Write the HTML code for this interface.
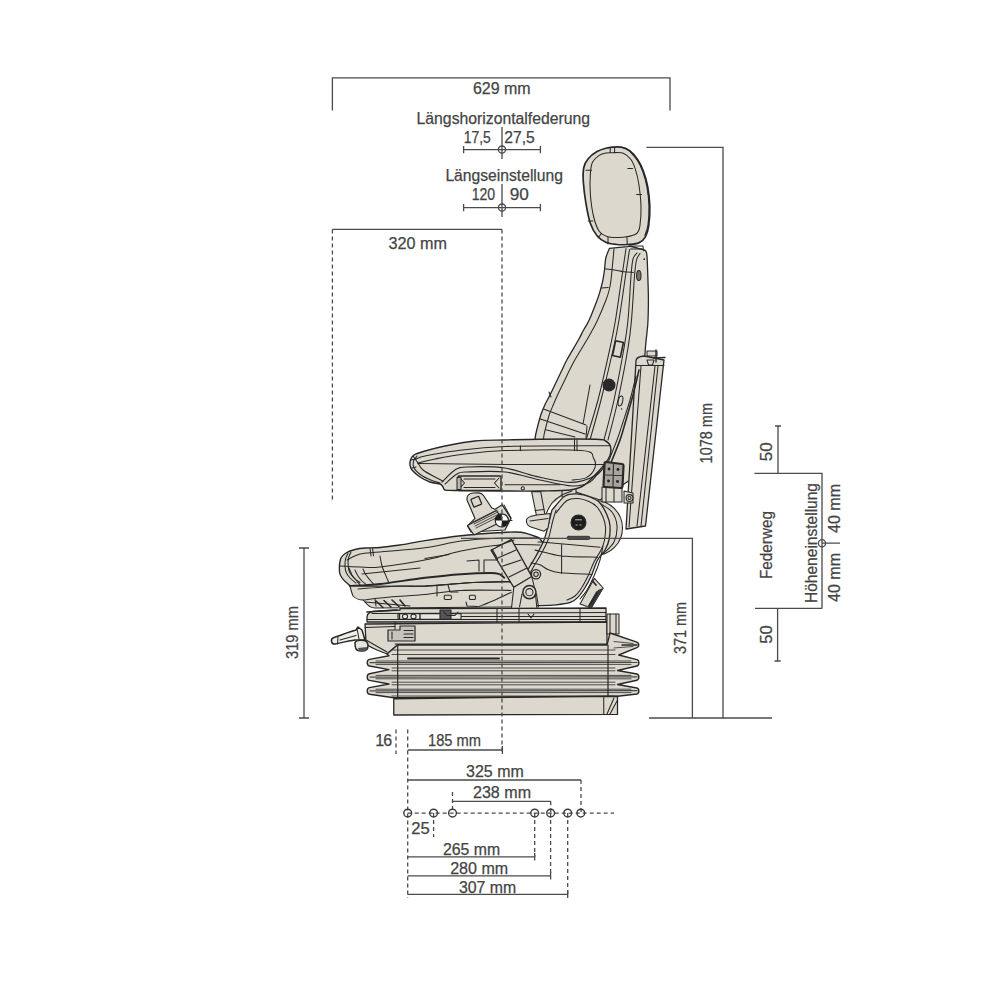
<!DOCTYPE html>
<html><head><meta charset="utf-8"><style>
html,body{margin:0;padding:0;background:#fff;width:1000px;height:1000px;overflow:hidden}
svg{display:block}
</style></head><body>
<svg width="1000" height="1000" viewBox="0 0 1000 1000">
<g stroke="#282828" stroke-width="1.05" fill="#dcd8ce" stroke-linejoin="round" stroke-linecap="round">
<path stroke-width="1.7" d="M612.4,147.2 C615.0,147.0 618.3,146.6 621.2,147.2 C624.1,147.8 627.2,148.9 630.0,151.0 C632.8,153.1 635.5,156.5 637.7,159.8 C639.9,163.1 641.6,166.4 643.2,170.8 C644.9,175.2 646.5,180.3 647.6,186.2 C648.7,192.1 649.6,199.4 649.8,206.0 C650.0,212.6 649.4,220.7 648.7,225.8 C648.0,230.9 647.0,234.0 645.4,236.8 C643.8,239.7 641.7,241.6 638.8,242.9 C635.9,244.2 631.5,244.2 627.8,244.5 C624.1,244.8 620.5,244.9 616.8,244.5 C613.1,244.1 609.1,243.8 605.8,242.3 C602.5,240.8 599.6,238.8 597.0,235.7 C594.4,232.6 592.2,228.9 590.4,223.6 C588.6,218.3 587.2,210.8 586.0,203.8 C584.8,196.8 583.7,187.9 583.3,181.8 C582.9,175.8 583.0,171.3 583.8,167.5 C584.6,163.7 586.0,161.3 588.2,158.7 C590.4,156.0 594.1,153.3 597.0,151.6 C599.9,149.9 603.2,149.0 605.8,148.3 C608.4,147.6 609.8,147.4 612.4,147.2 Z"/>
<path fill="none" stroke-width="1.2" d="M630.0,151.5 C631.2,153.0 635.4,157.2 637.5,160.5 C639.6,163.8 641.2,167.1 642.8,171.5 C644.4,175.9 646.0,181.2 647.0,187.0 C648.0,192.8 648.8,199.7 649.0,206.0 C649.2,212.3 648.7,220.1 648.0,225.0 C647.3,229.9 645.5,233.8 645.0,235.5"/>
<path d="M612.4,152.7 C615.3,152.7 620.3,152.0 623.4,153.2 C626.5,154.4 629.1,157.1 631.1,159.8 C633.1,162.6 634.2,165.7 635.5,169.7 C636.8,173.7 637.9,177.9 638.8,184.0 C639.7,190.1 640.8,199.0 641.0,206.0 C641.2,213.0 640.6,221.2 639.9,225.8 C639.2,230.4 638.8,231.7 636.6,233.5 C634.4,235.3 630.0,236.2 626.7,236.8 C623.4,237.5 619.9,237.4 616.8,237.4 C613.7,237.4 610.9,237.8 608.0,236.8 C605.1,235.8 601.6,234.6 599.2,231.3 C596.8,228.0 595.2,223.1 593.7,217.0 C592.2,210.9 591.0,202.3 590.4,195.0 C589.8,187.7 590.0,178.5 590.4,173.0 C590.8,167.5 591.1,164.9 592.6,162.0 C594.1,159.1 597.0,156.9 599.2,155.4 C601.4,153.9 603.6,153.4 605.8,153.0 C608.0,152.6 609.5,152.7 612.4,152.7 Z"/>
<path fill="none" d="M610.2,147.8 V152.5 M614.6,147.8 V152.5 M586,170.3 H591.5 M627.8,168.4 H632.5 M636.6,194.5 H641.5 M588.2,220.9 H592.8 M601.4,233.5 L598.1,237.9 M608,237.3 V244 M626.9,236.8 L627.3,244.2"/>
<path stroke-width="1.3" d="M609.4,248.4 C608.8,250.0 606.6,254.4 605.8,258.0 C605.0,261.6 605.0,266.0 604.5,270.0 C604.0,274.0 603.2,278.7 602.5,282.0 C601.8,285.3 601.3,287.0 600.4,290.0 C599.5,293.0 599.1,295.0 597.2,300.0 C595.3,305.0 591.5,315.0 589.2,320.0 C586.9,325.0 585.4,326.7 583.6,330.0 C581.8,333.3 581.2,335.0 578.4,340.0 C575.6,345.0 569.5,355.0 566.8,360.0 C564.1,365.0 563.6,366.7 562.0,370.0 C560.4,373.3 559.2,375.8 557.2,380.0 C555.2,384.2 552.1,390.8 550.0,395.0 C547.9,399.2 546.3,401.7 544.8,405.0 C543.3,408.3 541.9,411.7 540.8,415.0 C539.7,418.3 538.9,421.7 538.0,425.0 C537.1,428.3 536.1,432.5 535.6,435.0 C535.1,437.5 535.1,439.2 535.0,440.0 L540,480 L600,500 L630,480 L636.0,460.0 C637.0,450.0 640.4,418.7 642.0,400.0 C643.6,381.3 644.4,360.7 645.4,348.0 C646.4,335.3 647.3,332.0 647.8,324.0 C648.3,316.0 648.4,308.0 648.4,300.0 C648.4,292.0 648.1,283.8 647.8,276.0 C647.5,268.2 647.4,257.6 646.6,253.2 C645.8,248.8 643.6,250.2 643.0,249.6 L629.8,246 L627.4,246.6 Z"/>
<path fill="none" d="M614.0,249.0 C613.8,251.7 613.0,259.8 612.5,265.0 C612.0,270.2 611.5,275.8 611.0,280.0 C610.5,284.2 610.0,286.7 609.2,290.0 C608.4,293.3 607.9,295.0 606.0,300.0 C604.1,305.0 599.9,315.0 597.6,320.0 C595.3,325.0 594.2,326.7 592.4,330.0 C590.6,333.3 589.7,335.0 586.8,340.0 C583.9,345.0 577.7,355.0 574.8,360.0 C571.9,365.0 571.3,366.7 569.6,370.0 C567.9,373.3 566.8,375.8 564.8,380.0 C562.8,384.2 559.5,390.8 557.6,395.0 C555.7,399.2 554.6,401.7 553.2,405.0 C551.8,408.3 550.3,411.7 549.2,415.0 C548.1,418.3 547.3,421.7 546.4,425.0 C545.5,428.3 544.5,432.5 544.0,435.0 C543.5,437.5 543.6,439.2 543.5,440.0"/>
<path fill="none" d="M626.0,248.5 C625.3,253.1 623.8,264.1 622.0,276.0 C620.2,287.9 617.5,308.0 615.5,320.0 C613.5,332.0 612.9,334.7 610.0,348.0 C607.1,361.3 602.0,384.7 598.0,400.0 C594.0,415.3 588.0,433.3 586.0,440.0"/>
<path fill="none" d="M629.5,249.5 C628.8,253.9 627.2,264.2 625.5,276.0 C623.8,287.8 621.0,308.0 619.0,320.0 C617.0,332.0 616.5,334.7 613.5,348.0 C610.5,361.3 604.9,384.7 601.0,400.0 C597.1,415.3 591.8,433.3 590.0,440.0"/>
<path fill="none" d="M637.0,253.0 C636.3,254.0 634.0,255.2 633.0,259.0 C632.0,262.8 631.8,265.8 631.0,276.0 C630.2,286.2 629.2,308.0 628.0,320.0 C626.8,332.0 626.3,334.7 624.0,348.0 C621.7,361.3 617.3,384.7 614.0,400.0 C610.7,415.3 605.7,433.3 604.0,440.0"/>
<path fill="none" d="M640.0,253.5 C639.4,254.6 637.4,256.2 636.5,260.0 C635.6,263.8 635.3,266.0 634.5,276.0 C633.7,286.0 632.6,308.0 631.5,320.0 C630.4,332.0 630.2,334.7 628.0,348.0 C625.8,361.3 621.3,384.7 618.0,400.0 C614.7,415.3 609.7,433.3 608.0,440.0"/>
<path fill="none" d="M629.8,246 L643,246 L643.5,250.8 M630.5,249 L642.5,249"/>
<path fill="none" d="M604.6,268.8 C606.2,269.0 611.0,269.5 614.2,270.0 C617.4,270.5 620.6,271.4 623.8,271.8 C627.0,272.2 631.8,272.3 633.4,272.4 M601.6,288 L608.2,287.4"/>
<ellipse cx="638.8" cy="275.4" rx="2.2" ry="5" fill="#77736c"/>
<circle cx="644.2" cy="259.2" r="0.9" fill="#2e2e2e" stroke="none"/>
<rect x="614" y="341.5" width="8" height="15" transform="rotate(12 618 349)" stroke-width="1.6"/>
<circle cx="609" cy="385" r="6" fill="#2a2a2a"/>
<ellipse cx="620.5" cy="401" rx="2.2" ry="5" fill="none" transform="rotate(12 620.5 401)"/>
<circle cx="621.5" cy="409" r="0.8" fill="#2e2e2e" stroke="none"/>
<path fill="none" d="M543.6,409 L586,425 M540.4,419 L585,434 M545.6,429.8 L575,437 M587,426 L586,438 M590,385 L583,424 M549,392 L551,397"/>
<path stroke-width="1.3" d="M636,361 C636,358 639,356.5 644,356 L664,360 L645.5,526 L626,529 Z"/>
<path fill="none" d="M636,365.5 L664,365.5 M641,366 L629,527 M655,366 L637,526 M658,366 L641,526"/>
<path fill="none" stroke-width="1.6" d="M639.0,370.0 C638.0,374.2 635.2,386.7 633.0,395.0 C630.8,403.3 628.2,412.5 626.0,420.0 C623.8,427.5 622.7,432.5 620.0,440.0 C617.3,447.5 611.7,460.8 610.0,465.0"/>
<path fill="none" d="M636.0,376.0 C635.0,380.0 632.2,392.3 630.0,400.0 C627.8,407.7 625.2,415.3 623.0,422.0 C620.8,428.7 619.7,432.8 617.0,440.0 C614.3,447.2 608.7,460.8 607.0,465.0"/>
<path d="M647,351 L657,351 L657,356 L647,356 Z M647,360 L654,360 L652.5,365 L648.5,365 Z"/>
<path fill="none" stroke-width="1.4" d="M656,350 L656,362 M654,358 L665,357.5"/>
<path d="M624,491 L633,493 L633,503 L624,503 Z"/>
<circle cx="629.5" cy="498" r="3.4"/><circle cx="629.5" cy="498" r="1.6" fill="none"/>
<circle cx="595" cy="528" r="27.5"/>
<path fill="none" d="M601.0,504.0 C602.8,505.3 609.3,508.3 612.0,512.0 C614.7,515.7 616.7,521.0 617.0,526.0 C617.3,531.0 616.3,537.3 614.0,542.0 C611.7,546.7 604.8,552.0 603.0,554.0"/>
<path stroke="none" d="M531,490 L562,490 L562,497 L552,505 L546,512 L537,516 Z"/>
<path d="M531.6,491.6 L540.7,491.6 L544.9,514.4 L536.5,515.8 Z"/>
<path fill="none" d="M535,510.5 L544,509.5"/>
<path d="M562,488 L576,488 L576,497 L562,497 Z"/>
<path d="M602,487 L622,487 L622,502 L602,502 Z"/><path fill="none" d="M606,487 L606,502 M614,487 L614,502"/>
<path stroke-width="1.4" d="M339.5,572.0 C339.5,570.8 339.2,567.3 339.5,565.0 C339.8,562.7 339.9,560.0 341.0,558.0 C342.1,556.0 343.7,554.4 346.0,553.0 C348.3,551.6 351.8,550.3 355.0,549.5 C358.2,548.7 360.8,548.3 365.0,548.0 C369.2,547.7 374.2,548.0 380.0,547.5 C385.8,547.0 392.5,546.1 400.0,545.0 C407.5,543.9 414.8,542.1 425.0,540.6 C435.2,539.1 449.0,537.1 461.0,535.8 C473.0,534.5 487.0,533.4 497.0,532.8 C507.0,532.2 514.0,531.4 521.0,532.2 C528.0,533.0 536.0,536.9 539.0,537.8 L545,545 L540,570 L511,582 L473,582.6 L425,586.2 L380,588 L358,589 C354,588 351,587 348,584 C343,580 340,577 339.5,572 Z"/>
<path fill="none" d="M347.0,560.0 C349.2,559.0 354.5,555.3 360.0,554.0 C365.5,552.7 369.2,553.0 380.0,552.0 C390.8,551.0 411.5,549.6 425.0,547.8 C438.5,546.0 449.0,542.6 461.0,541.0 C473.0,539.4 484.0,538.7 497.0,538.2 C510.0,537.7 532.0,538.0 539.0,538.0"/>
<path fill="none" d="M340.0,566.0 C343.3,566.2 353.3,566.8 360.0,567.0 C366.7,567.2 368.3,568.3 380.0,567.0 C391.7,565.7 416.5,561.7 430.0,559.0 C443.5,556.3 449.3,553.3 461.0,551.0 C472.7,548.7 486.8,546.0 500.0,545.0 C513.2,544.0 533.3,545.0 540.0,545.0"/>
<path fill="none" d="M362,574 L420,568 M425,558.6 L449,554.4 M467,561 L479,560 L479,571 M484,560 L497,560 M484,560 L484,572"/>
<path fill="none" d="M370,548.2 L371,556 M372.5,548 L373.5,555.8"/>
<path fill="none" d="M348.0,553.5 C347.6,554.4 346.0,556.9 345.5,559.0 C345.0,561.1 344.9,563.8 345.0,566.0 C345.1,568.2 345.2,570.0 346.0,572.0 C346.8,574.0 348.3,576.2 350.0,578.0 C351.7,579.8 355.0,582.2 356.0,583.0 M351.0,552.0 C350.6,553.0 349.0,555.7 348.5,558.0 C348.0,560.3 348.0,563.7 348.2,566.0 C348.4,568.3 348.5,570.0 349.5,572.0 C350.5,574.0 352.2,576.2 354.0,578.0 C355.8,579.8 359.0,581.8 360.0,582.5"/>
<path fill="none" d="M380.0,556.0 C380.3,557.7 381.0,562.7 382.0,566.0 C383.0,569.3 384.8,573.2 386.0,576.0 C387.2,578.8 388.5,581.8 389.0,583.0 M363.0,569.0 C363.5,570.0 364.8,573.2 366.0,575.0 C367.2,576.8 368.7,578.4 370.0,580.0 C371.3,581.6 373.3,583.8 374.0,584.5 M355.0,570.0 C355.5,571.0 356.8,574.2 358.0,576.0 C359.2,577.8 360.3,579.3 362.0,581.0 C363.7,582.7 367.0,585.2 368.0,586.0 M349.0,568.0 C349.5,569.2 350.8,573.0 352.0,575.0 C353.2,577.0 354.5,578.2 356.0,580.0 C357.5,581.8 360.2,585.0 361.0,586.0"/>
<path fill="none" stroke-width="1.9" d="M350.0,586.0 C355.0,585.7 367.5,585.4 380.0,584.0 C392.5,582.6 411.5,579.4 425.0,577.8 C438.5,576.2 450.0,575.0 461.0,574.2 C472.0,573.4 484.6,573.0 491.0,573.0 C497.4,573.0 497.2,573.4 499.4,574.2 C501.6,575.0 503.4,577.2 504.2,577.8"/>
<path d="M350,586 C351,590 352,594 353,596 C356,599 360,600 363,600 L365,602 C368,606 372,608 375,608 L515,607 L515,582 L473,582.6 L425,586.2 Z"/>
<path fill="none" d="M358.0,589.0 C365.0,588.5 388.8,586.5 400.0,586.0 C411.2,585.5 412.8,586.8 425.0,586.2 C437.2,585.6 458.7,583.4 473.0,582.6 C487.3,581.8 504.7,581.6 511.0,581.4 M363.0,600.0 C367.5,599.5 379.7,597.9 390.0,597.0 C400.3,596.1 413.2,595.7 425.0,594.6 C436.8,593.5 446.7,591.1 461.0,590.4 C475.3,589.7 502.7,590.4 511.0,590.4 M479.0,606.6 C481.7,605.5 489.6,602.4 495.0,600.0 C500.4,597.6 508.7,593.5 511.4,592.2"/>
<path fill="none" d="M365,602 L410,606 M375,599 L376,606 M437,586 L437,596"/>
<rect x="444.2" y="595.2" width="7.2" height="4.2" rx="1.2" fill="none"/>
<rect x="469.4" y="595.2" width="6" height="4.2" rx="1" fill="none"/>
<path fill="none" stroke-width="1.6" d="M376,601 L383,607.5 M384,600.5 L391,607 M392,600 L399,606.5 M400,600 L405,606"/>
<path fill="none" d="M466,602 L467,606 L478,606.5 M448,585 L450,592 L458,592"/>
<path stroke-width="1.3" d="M552.0,510.0 C554.2,507.7 560.7,498.7 565.0,496.0 C569.3,493.3 573.8,493.8 578.0,494.0 C582.2,494.2 586.3,495.5 590.0,497.0 C593.7,498.5 597.2,500.0 600.0,503.0 C602.8,506.0 605.3,511.2 607.0,515.0 C608.7,518.8 609.7,521.8 610.0,526.0 C610.3,530.2 609.8,536.0 609.0,540.0 C608.2,544.0 606.9,546.7 605.0,550.0 C603.1,553.3 599.9,555.7 597.6,560.0 C595.3,564.3 593.3,571.3 591.2,576.0 C589.1,580.7 587.1,584.4 584.8,588.0 C582.5,591.6 580.0,595.2 577.6,597.6 C575.2,600.0 574.0,601.2 570.4,602.4 C566.8,603.6 561.1,604.3 556.0,604.8 C550.9,605.3 546.8,605.4 540.0,605.6 C533.2,605.8 519.2,605.9 515.0,606.0 L517,592 L517.0,592.0 C518.2,589.5 521.8,581.3 524.0,577.0 C526.2,572.7 528.0,569.5 530.0,566.0 C532.0,562.5 533.7,560.3 536.0,556.0 C538.3,551.7 541.8,545.7 544.0,540.0 C546.2,534.3 547.7,527.0 549.0,522.0 C550.3,517.0 551.5,512.0 552.0,510.0 Z"/>
<path fill="none" d="M556.0,513.0 C557.8,510.9 563.3,502.9 567.0,500.5 C570.7,498.1 574.3,498.3 578.0,498.5 C581.7,498.7 585.8,500.1 589.0,501.5 C592.2,502.9 594.7,504.4 597.0,507.0 C599.3,509.6 601.6,513.7 603.0,517.0 C604.4,520.3 605.2,523.2 605.5,527.0 C605.8,530.8 605.2,536.2 604.5,540.0 C603.8,543.8 602.8,546.3 601.0,550.0 C599.2,553.7 596.2,557.7 594.0,562.0 C591.8,566.3 590.1,571.7 588.0,576.0 C585.9,580.3 583.7,584.7 581.5,588.0 C579.3,591.3 577.4,594.0 575.0,596.0 C572.6,598.0 568.3,599.3 567.0,600.0"/>
<path fill="none" d="M546.0,514.0 C547.0,512.2 549.3,506.2 552.0,503.0 C554.7,499.8 558.7,497.0 562.0,495.0 C565.3,493.0 570.3,491.7 572.0,491.0"/>
<path fill="none" d="M556.0,510.0 C555.4,512.0 553.8,517.0 552.5,522.0 C551.2,527.0 550.1,534.3 548.0,540.0 C545.9,545.7 542.3,551.7 540.0,556.0 C537.7,560.3 536.0,562.5 534.0,566.0 C532.0,569.5 530.2,572.7 528.0,577.0 C525.8,581.3 522.2,589.5 521.0,592.0"/>
<path fill="none" d="M603.0,546.0 C602.5,548.3 601.5,555.0 600.0,560.0 C598.5,565.0 596.2,571.0 594.0,576.0 C591.8,581.0 589.3,586.2 587.0,590.0 C584.7,593.8 581.2,597.5 580.0,599.0"/>
<path d="M526.4,521 C526,518 530,516 537,515 L550.4,513.6 L548,528 L544,531.2 L531,527 C528,526 526.5,523 526.4,521 Z"/>
<path fill="none" d="M530,521 L548,518.5"/>
<circle cx="578.5" cy="522.5" r="7.5" fill="#1c1c1c"/>
<path fill="none" stroke="#cfcfcf" stroke-width="0.9" d="M575.5,519.8 L581.5,519.8 M576,525 L577.2,525 M579.8,525 L581,525"/>
<rect x="567" y="536.3" width="23" height="3.2" rx="1.6" fill="#4a4a4a" stroke-width="0.8"/>
<path fill="none" d="M538.0,542.0 C539.4,542.1 540.2,541.9 546.4,542.4 C552.6,542.9 566.1,544.2 575.0,545.0 C583.9,545.8 595.8,546.8 600.0,547.2 M535.0,550.0 C535.8,550.2 535.6,550.2 540.0,551.2 C544.4,552.2 552.0,555.0 561.6,556.0 C571.2,557.0 591.6,557.0 597.6,557.2 M561.6,544 L561.6,573.6 M531.0,563.0 C532.5,563.3 537.2,563.7 540.0,564.8 C542.8,565.9 544.7,568.3 548.0,569.6 C551.3,570.9 552.7,572.0 560.0,572.8 C567.3,573.6 586.7,574.1 592.0,574.4"/>
<path d="M594.4,578.4 L603.2,588 L591.2,608 L580,604 Z"/>
<path fill="#3a3a3a" stroke="none" d="M598,590 L603.2,588 L592,607.5 L588,606 Z"/>
<path fill="none" stroke-width="1.8" d="M589,606 L597,592 M592.5,581 L596,585"/>
<path stroke-width="1.4" d="M410.5,460.0 C411.2,458.3 411.6,456.5 414.0,455.0 C416.4,453.5 419.8,452.5 425.0,451.0 C430.2,449.5 436.7,447.7 445.0,446.0 C453.3,444.3 465.0,442.0 475.0,441.0 C485.0,440.0 494.2,440.3 505.0,440.0 C515.8,439.7 524.8,439.3 540.0,439.2 C555.2,439.1 585.1,438.9 596.0,439.2 C606.9,439.5 603.2,439.8 605.6,441.0 C608.0,442.2 609.7,443.9 610.4,446.4 C611.1,448.9 610.8,453.0 609.8,456.0 C608.8,459.0 606.7,461.4 604.4,464.4 C602.1,467.4 599.4,470.5 596.0,474.0 C592.6,477.5 588.3,482.7 584.0,485.4 C579.7,488.1 577.3,489.1 570.0,490.0 C562.7,490.9 550.8,490.8 540.0,491.0 C529.2,491.2 519.2,491.1 505.0,491.0 C490.8,490.9 465.0,490.7 455.0,490.5 C445.0,490.3 447.0,490.6 445.0,490.0 C443.0,489.4 443.8,488.0 443.0,487.0 C442.2,486.0 442.2,484.8 440.0,484.0 C437.8,483.2 433.3,483.2 430.0,482.0 C426.7,480.8 423.0,479.0 420.0,477.0 C417.0,475.0 413.7,472.0 412.0,470.0 C410.3,468.0 410.2,466.7 410.0,465.0 C409.8,463.3 409.8,461.7 410.5,460.0 Z"/>
<path fill="none" d="M416.0,459.0 C417.5,458.5 418.5,457.3 425.0,456.0 C431.5,454.7 441.7,452.6 455.0,451.0 C468.3,449.4 479.2,447.4 505.0,446.5 C530.8,445.6 592.5,445.9 610.0,445.8"/>
<path fill="none" d="M418.0,463.0 C420.8,462.3 427.2,460.5 435.0,459.0 C442.8,457.5 453.3,455.4 465.0,454.0 C476.7,452.6 485.6,451.2 505.0,450.6 C524.4,450.0 566.8,449.3 581.6,450.6 C596.4,451.9 591.4,455.5 593.6,458.4 C595.8,461.3 596.0,464.8 594.8,468.0 C593.6,471.2 590.2,475.6 586.4,477.6 C582.6,479.6 574.4,479.6 572.0,480.0"/>
<path fill="none" d="M418,463.5 L505,464.5 L604,464.4"/>
<path fill="none" d="M418.0,463.0 C418.8,464.2 420.2,467.7 423.0,470.0 C425.8,472.3 431.7,475.2 435.0,477.0 C438.3,478.8 441.7,480.3 443.0,481.0"/>
<path fill="none" stroke-width="1.2" d="M442.0,482.0 C444.2,480.0 450.8,472.5 455.0,470.0 C459.2,467.5 458.7,467.3 467.0,467.0 C475.3,466.7 493.5,466.4 505.0,468.0 C516.5,469.6 524.8,474.0 536.0,476.4 C547.2,478.8 562.0,482.6 572.0,482.4 C582.0,482.2 590.4,478.2 596.0,475.2 C601.6,472.2 604.0,466.2 605.6,464.4"/>
<path fill="none" d="M445.0,484.0 C447.0,482.3 453.3,476.0 457.0,474.0 C460.7,472.0 459.0,472.3 467.0,472.0 C475.0,471.7 492.8,470.7 505.0,472.0 C517.2,473.3 528.8,477.7 540.0,480.0 C551.2,482.3 563.7,485.7 572.0,486.0 C580.3,486.3 585.3,484.7 590.0,482.0 C594.7,479.3 598.3,472.0 600.0,470.0"/>
<path fill="none" d="M417.0,456.0 C416.4,456.8 414.0,459.0 413.5,461.0 C413.0,463.0 412.8,465.7 414.0,468.0 C415.2,470.3 418.0,472.9 421.0,475.0 C424.0,477.1 428.8,479.2 432.0,480.5 C435.2,481.8 438.7,482.6 440.0,483.0"/>
<path fill="none" d="M410.5,460 L416,459 M413,456 L418,463 M412,468 L416,467"/>
<path fill="none" d="M574.5,439.5 L574.5,450.6 M577,439.5 L577,450.6 M520.4,445.8 L520.4,450.6"/>
<path fill="none" d="M505,484.8 L560,484.8"/>
<circle cx="522.8" cy="488.4" r="1.6" fill="none"/>
<rect x="458" y="476" width="43" height="14.5" rx="1" stroke-width="1.4"/>
<path fill="none" d="M464,479 L495,479 M464,487.5 L495,487.5 M460,478 L464.5,483 L460,488 M499,478 L494.5,483 L499,488"/>
<path d="M461,477.5 L457,477.5 L457,489.5 L461,489.5 Z" fill="#bbb7af"/>
<path stroke-width="2.2" fill="#a8a49d" d="M606,462 L622,464 C623,464 623.5,465 623.5,466 L622.5,486 C622.5,487 621.5,488 620.5,488 L605,487 C604,487 603.5,486 603.5,485 L604.5,464 C604.5,463 605,462 606,462 Z"/>
<path fill="none" stroke="#333" stroke-width="1.2" d="M604.5,475 L622.5,475.5 M613.5,463 L613,487"/>
<g fill="#222" stroke="none"><circle cx="609" cy="469" r="1.4"/><circle cx="618" cy="469.5" r="1.4"/><circle cx="608.5" cy="481" r="1.4"/><circle cx="617.5" cy="481.5" r="1.4"/></g>
<path stroke-width="1.2" d="M467,500 C466.5,496 469,493.5 473,493 L479,492.8 C481,493 482.5,494 483.5,495.5 L491.8,508 L495,509.2 L502.2,504.8 L511,518.4 L505,530 L471,532 L467.5,526 L475,518.4 Z"/>
<rect x="472" y="497.5" width="8.5" height="8.5" rx="0.8" transform="rotate(-22 476.2 501.7)" fill="none" stroke-width="1.3"/>
<path fill="#dcd8ce" stroke-width="1.1" d="M467.5,525.6 L496.6,510.5 L503,521 L474,535 Z"/>
<path fill="none" stroke="#333" stroke-width="0.9" d="M473,522 L497,510 M474,524 L498,512 M475,526 L499,514 M476,528 L500,516"/>
<circle cx="501.8" cy="520.4" r="6.6" fill="#fff" stroke-width="1.2"/>
<path stroke="none" fill="#1c1c1c" d="M495.2,520.4 A6.6,6.6 0 0 1 501.8,513.8 L501.8,520.4 Z M508.4,520.4 A6.6,6.6 0 0 1 501.8,527 L501.8,520.4 Z"/>
<path fill="none" d="M508.5,520.4 L512,520.4 M504,505 L511,518"/>
<path stroke-width="1.3" d="M491,550.2 L511.4,539.4 L531.8,576.6 L513.8,587.4 Z"/>
<path fill="none" stroke-width="2.4" stroke="#333" d="M492,550 L497,559"/>
<path fill="none" d="M497,546 L514,540 M498,558 L516,550 M503,566 L521,560 M509,577 L527,568"/>
<path d="M513.8,587.4 L511.4,609 L537,609 L535,590 L531.8,576.6 Z"/>
<circle cx="536" cy="574.2" r="4.6" stroke-width="1.3"/><circle cx="536" cy="574.2" r="2.2" fill="none"/>
<circle cx="529.4" cy="592.2" r="6.6" stroke-width="1.5"/><circle cx="529.4" cy="592.2" r="3.6" fill="none"/>
<path fill="none" d="M522,594 L519.5,607 M536.5,594 L538.5,607"/>
<path stroke-width="1.3" d="M367,617 C367,613 370,611 378,611 L400,610 L400,608.7 L606,608 L606,622 L367,622 Z"/>
<path fill="none" d="M372,613.5 L606,612.5 M399,616.4 L606,616.4 M367,619.5 L606,619.5"/>
<path fill="#e8e6e0" stroke-width="1.1" d="M398,613.6 L461,613.6 L461,619.4 L398,619.4 Z"/>
<path fill="none" stroke-width="1.4" d="M399.5,614 L399.5,619 M420,614 L420,619"/><ellipse cx="405" cy="616.5" rx="2.6" ry="2.3" fill="none"/><ellipse cx="413.5" cy="616.5" rx="2.6" ry="2.3" fill="none"/>
<path fill="#555" stroke-width="1.1" d="M440,610 L451,610 L451,619.4 L440,619.4 Z"/>
<path fill="none" d="M497,609 L497,622 M519,609 L519,622 M580,609 L580,622"/>
<path fill="none" d="M444,612 L447,615.5 L455,615.5 L458,612 M528,614 L531,618 L534,614"/>
<path fill="none" stroke-width="1.6" d="M367,612 L397,610"/>
<path stroke-width="1.3" d="M365,624 L607,622 L607,645 L397.5,645 L387,654 L377,650 C370,647 366,645 366,643 Z"/>
<path fill="none" d="M395,644 L607,644 M365,627.5 L395,626.5 M366,640 L387,652"/>
<path d="M388,630 L400,630 L400,626 L415,626 L415,641 L388,641 Z" fill="#c8c4bc" stroke-width="1.2"/>
<path fill="none" d="M404,630.5 L413,630.5 M404,634 L413,634 M404,637.5 L413,637.5 M392,632 L392,639 M395,622 L395,629"/>
<path d="M607,614 L619,614 L619,634 L607,634 Z"/>
<path fill="none" d="M610,614 L610,634 M616,614 L616,634"/>
<path stroke-width="1.4" d="M389,655.8 L369.5,659.4 C366.5,660 366.5,665.5 369.5,666 L389,669.6 L369.5,673.8 C366.5,674.4 366.5,680 369.5,680.4 L389,684 L369.5,687.6 C366.5,688.2 366.5,693.6 369.5,694.2 L393.8,697.8 L617.5,696.25 L636.9,694 C639.5,693.4 639.5,688.6 636.9,688 L617.5,684.5 L636.9,680.2 C639.5,679.6 639.5,674.6 636.9,674 L617.5,670.5 L636.9,666 C639.5,665.4 639.5,660.2 636.9,659.6 L618.75,655 L636.9,647.6 C639.5,647 639.5,642.8 636.9,642.2 L610,633 L607,645 L397.5,645 L387,654 Z"/>
<path fill="none" stroke="#4a4a4a" stroke-width="1.2" d="M370,662.7 L637,662.5"/>
<path fill="none" stroke-width="0.8" d="M376,661.0 L631,661.0 M376,664.4 L631,664.4"/>
<path fill="none" stroke="#4a4a4a" stroke-width="1.2" d="M370,677.1 L637,676.9"/>
<path fill="none" stroke-width="0.8" d="M376,675.4 L631,675.4 M376,678.8 L631,678.8"/>
<path fill="none" stroke="#4a4a4a" stroke-width="1.2" d="M370,690.9 L637,690.7"/>
<path fill="none" stroke-width="0.8" d="M376,689.2 L631,689.2 M376,692.6 L631,692.6"/>
<path fill="none" stroke-width="0.8" d="M392,650 L615,650"/>
<path fill="none" stroke-width="0.8" d="M392,654.5 L615,654.5"/>
<path fill="none" stroke-width="0.8" d="M392,668 L615,668"/>
<path fill="none" stroke-width="0.8" d="M392,670.8 L615,670.8"/>
<path fill="none" stroke-width="0.8" d="M392,682.2 L615,682.2"/>
<path fill="none" stroke-width="0.8" d="M392,684.8 L615,684.8"/>
<path fill="none" stroke-width="0.8" d="M392,696 L615,696"/>
<path fill="none" stroke-width="1.5" d="M622,645 L637,645"/>
<path fill="none" stroke-width="0.8" d="M614,641.5 L633,643.5 M614,648 L633,646.5"/>
<path fill="none" stroke-width="2" d="M408,658.4 L499,658.4"/>
<path fill="none" stroke-width="1.2" d="M397.7,645 L397.7,699 M608,645 L608,697"/>
<path stroke-width="1.3" d="M393.75,698.75 L617.5,696.25 L617.5,714.4 L393.75,715 Z"/>
<path fill="none" d="M603.75,697.5 L603.75,714.4 M607,714 L614,698 M610,714 L617,701"/>
<path stroke-width="1.5" fill="#eeece7" d="M334,637.5 C340,635.5 350,631.5 356,630 L358,627 L362,630 L365,640 L355,640 C348,641 340,643 335,644 C331,644.5 330,638.5 334,637.5 Z"/>
<path fill="none" d="M338,637 L337.5,644 M340,640 L356,635.5 M357,628.5 L359,639"/>
<path stroke-width="1.5" fill="#e6e4de" d="M355,643 C355,640.5 359,640 364,640.5 C367,641 368,643 368,646 C368,649 366,651 362,651 L358,650.5 C356,650 355,647 355,643 Z"/>
<path fill="#555" stroke="none" d="M358,648 L367,647 L366,651 L359,651.5 Z"/>
</g>
<g fill="none" stroke="#4b4b4b" stroke-width="1.3">
  <!-- 629 -->
  <path d="M332.4,110.5 V77.8 H670 V110.5"/>
  <!-- Längshorizontalfederung -->
  <path d="M502,127 V159 M463.6,149.6 H540.4 M463.6,146 V153.2 M540.4,146 V153.2"/>
  <circle cx="502" cy="149.6" r="3.6"/>
  <!-- Längseinstellung -->
  <path d="M502,184 V217 M463.6,207.6 H540.4 M463.6,204 V211.2 M540.4,204 V211.2"/>
  <circle cx="502" cy="207.6" r="3.6"/>
  <!-- 320 -->
  <path d="M332.4,229.4 H502"/>
  <path d="M332.4,229.4 V500 M502,229.4 V752" stroke-dasharray="4 3"/>
  <!-- 1078 -->
  <path d="M646.4,147.4 H723 V718 M649,718 H772"/>
  <!-- 371 -->
  <path d="M461,538.4 H692.4 V718"/>
  <!-- Federweg -->
  <path d="M778,426 V473.4 M775,426 H781 M754.4,473.4 H822 V608.4 M755,608.4 H822 M777.6,608.4 V661 M774.5,661 H780.7 M822,543.2 H840"/>
  <circle cx="822" cy="543.2" r="3.6"/>
  <!-- 319 -->
  <path d="M304,548 V718 M299,548 H309 M299,718 H309"/>
  <!-- bottom -->
  <path d="M396,729.6 V754 M407.7,729.6 V898" stroke-dasharray="4 3"/>
  <path d="M407.7,750 H502.4 M502.4,746 V754"/>
  <path d="M407.7,780 H581 M452.5,801.3 H550.7"/>
  <path d="M581,780 V813 M452.5,792 V813 M550.7,801.3 V813" stroke-dasharray="4 3"/>
  <path d="M407.7,813.1 H614" stroke-dasharray="4 3"/>
  <path d="M433.6,813 V837 M534.7,813 V857 M550.6,813 V876 M567.7,813 V894.4" stroke-dasharray="4 3"/>
  <path d="M407.7,856.8 H534.7 M407.7,875.8 H550.6 M407.7,894.4 H567.7 M534.7,853 V860.5 M550.6,872 V879.5 M567.7,890.5 V898"/>
  <g fill="none" stroke-width="1.4" stroke="#3c3c3c">
  <circle cx="407.7" cy="813.1" r="3.9"/>
  <circle cx="433.6" cy="813.1" r="3.9"/>
  <circle cx="452.5" cy="813.1" r="3.9"/>
  <circle cx="534.7" cy="813.1" r="3.9"/>
  <circle cx="550.6" cy="813.1" r="3.9"/>
  <circle cx="567.7" cy="813.1" r="3.9"/>
  <circle cx="580.8" cy="813.1" r="3.9"/>
  </g>
</g>
<g fill="#444" font-family="Liberation Sans, sans-serif" font-size="16" stroke="#444" stroke-width="0.25" text-anchor="middle">
  <text x="501.8" y="93.6" textLength="57.6" lengthAdjust="spacingAndGlyphs">629 mm</text>
  <text x="503.3" y="123.6" textLength="173.4" lengthAdjust="spacingAndGlyphs">Längshorizontalfederung</text>
  <text x="477.2" y="143" textLength="27.1" lengthAdjust="spacingAndGlyphs">17,5</text>
  <text x="519.5" y="143" textLength="30.5" lengthAdjust="spacingAndGlyphs">27,5</text>
  <text x="504.2" y="181" textLength="117.6" lengthAdjust="spacingAndGlyphs">Längseinstellung</text>
  <text x="483.4" y="200" textLength="23.5" lengthAdjust="spacingAndGlyphs">120</text>
  <text x="519.2" y="200" textLength="19.1" lengthAdjust="spacingAndGlyphs">90</text>
  <text x="417.8" y="249" textLength="58.4" lengthAdjust="spacingAndGlyphs">320 mm</text>
  <text x="379.6" y="746.2">1</text><text x="387.6" y="746.2">6</text>
  <text x="454.5" y="746.3" textLength="53.0" lengthAdjust="spacingAndGlyphs">185 mm</text>
  <text x="494.9" y="777.2" textLength="57.7" lengthAdjust="spacingAndGlyphs">325 mm</text>
  <text x="502" y="798.2" textLength="58.0" lengthAdjust="spacingAndGlyphs">238 mm</text>
  <text x="420.5" y="834.1" textLength="18.5" lengthAdjust="spacingAndGlyphs">25</text>
  <text x="471.6" y="855.2" textLength="57.2" lengthAdjust="spacingAndGlyphs">265 mm</text>
  <text x="479.2" y="874.3" textLength="58.0" lengthAdjust="spacingAndGlyphs">280 mm</text>
  <text x="487.6" y="892.9" textLength="57.2" lengthAdjust="spacingAndGlyphs">307 mm</text>
  <text transform="translate(711.6,433.2) rotate(-90)" textLength="60.4" lengthAdjust="spacingAndGlyphs">1078 mm</text>
  <text transform="translate(686.4,628) rotate(-90)" textLength="52.0" lengthAdjust="spacingAndGlyphs">371 mm</text>
  <text transform="translate(297.6,632.5) rotate(-90)" textLength="53.0" lengthAdjust="spacingAndGlyphs">319 mm</text>
  <text transform="translate(772,451.7) rotate(-90)" textLength="18.9" lengthAdjust="spacingAndGlyphs">50</text>
  <text transform="translate(772,634.5) rotate(-90)" textLength="18.5" lengthAdjust="spacingAndGlyphs">50</text>
  <text transform="translate(772,545) rotate(-90)" textLength="68.0" lengthAdjust="spacingAndGlyphs">Federweg</text>
  <text transform="translate(816.5,543) rotate(-90)" textLength="120.0" lengthAdjust="spacingAndGlyphs">Höheneinstellung</text>
  <text transform="translate(840,508.5) rotate(-90)" textLength="49.0" lengthAdjust="spacingAndGlyphs">40 mm</text>
  <text transform="translate(840,577.5) rotate(-90)" textLength="49.0" lengthAdjust="spacingAndGlyphs">40 mm</text>
</g>

</svg>
</body></html>
